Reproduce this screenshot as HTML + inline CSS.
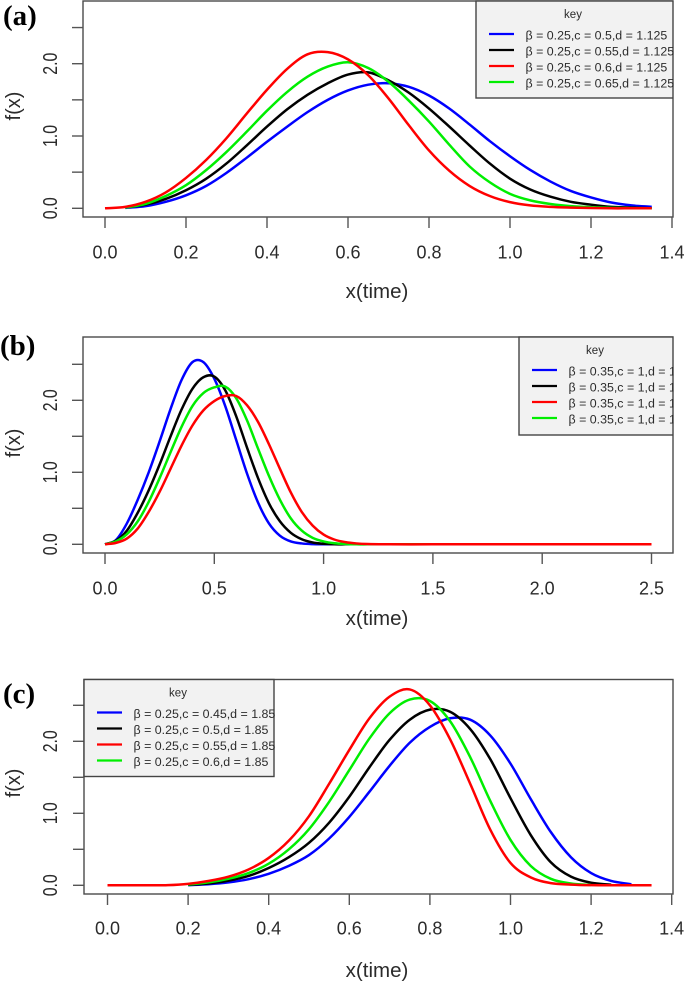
<!DOCTYPE html>
<html lang="en">
<head>
<meta charset="utf-8">
<title>f(x) density curves</title>
<style>
html,body{margin:0;padding:0;background:#fff;width:685px;height:981px;overflow:hidden}
svg{display:block;filter:blur(0.35px)}
text{font-family:"Liberation Sans",sans-serif;fill:#2b2b2b}
</style>
</head>
<body>
<svg id="figure" xmlns="http://www.w3.org/2000/svg" width="685" height="981" viewBox="0 0 685 981">
<defs><clipPath id="fig-clip"><rect x="0" y="0" width="673.5" height="981"></rect></clipPath></defs>
</svg>
<script>
// ---- shared data ----
const seriesNames = ['blue', 'black', 'green', 'red'];
const seriesColors = ['#0000ff', '#000000', '#00ee00', '#ff0000'];
const legendColors = ['#0000ff', '#000000', '#ff0000', '#00ee00'];
const yTicks = [0, 0.5, 1, 1.5, 2, 2.5];
const yTickLabels = ['0.0', '', '1.0', '', '2.0', ''];

// ---- panel (a) ----
const xA = [0,.05,.1,.15,.2,.25,.3,.35,.4,.45,.5,.55,.6,.65,.7,.75,.8,.85,.9,.95,1,1.05,1.1,1.15,1.2,1.25,1.3,1.35];
const blueA = [null,.005,.03,.09,.18,.31,.49,.7,.92,1.13,1.33,1.5,1.63,1.71,1.73,1.68,1.56,1.38,1.16,.93,.72,.53,.37,.24,.15,.08,.04,.02];
const blackA = [null,.01,.05,.13,.25,.41,.62,.87,1.13,1.37,1.57,1.73,1.85,1.88,1.77,1.6,1.38,1.13,.87,.62,.41,.26,.16,.09,.05,.02,.01,0];
const greenA = [null,.01,.06,.17,.32,.53,.78,1.06,1.35,1.61,1.82,1.96,2.02,1.94,1.75,1.49,1.2,.88,.58,.36,.2,.11,.06,.03,.015,.006,.002,0];
const redA = [0,.02,.09,.22,.42,.67,.97,1.31,1.64,1.93,2.13,2.16,2.06,1.84,1.52,1.15,.8,.52,.31,.17,.085,.04,.02,.01,.004,0,0,0];
const xTicksA = [0, .2, .4, .6, .8, 1, 1.2, 1.4];
const xTickLabelsA = ['0.0', '0.2', '0.4', '0.6', '0.8', '1.0', '1.2', '1.4'];
const legendA = ['β = 0.25,c = 0.5,d = 1.125', 'β = 0.25,c = 0.55,d = 1.125', 'β = 0.25,c = 0.6,d = 1.125', 'β = 0.25,c = 0.65,d = 1.125'];

// ---- panel (b) ----
const xB = [0,.05,.1,.15,.2,.25,.3,.35,.4,.45,.5,.55,.6,.65,.7,.75,.8,.85,.9,.95,1,1.05,1.1,1.15,1.2,1.3,1.5,2,2.5];
const blueB = [0,.06,.29,.62,1,1.43,1.88,2.28,2.53,2.53,2.3,1.92,1.45,.98,.58,.29,.12,.04,.012,.002,0,0,0,0,0,0,0,0,0];
const blackB = [0,.05,.19,.44,.75,1.11,1.5,1.87,2.16,2.32,2.33,2.14,1.78,1.34,.92,.57,.32,.16,.07,.025,.007,0,0,0,0,0,0,0,0];
const greenB = [0,.04,.14,.32,.59,.92,1.28,1.63,1.92,2.1,2.18,2.19,2.03,1.72,1.33,.95,.62,.36,.19,.09,.04,.015,.005,0,0,0,0,0,0];
const redB = [0,.02,.08,.22,.45,.73,1.05,1.37,1.65,1.86,1.99,2.06,2.06,1.93,1.7,1.39,1.05,.72,.45,.26,.135,.065,.03,.012,.004,0,0,0,0];
const xTicksB = [0, .5, 1, 1.5, 2, 2.5];
const xTickLabelsB = ['0.0', '0.5', '1.0', '1.5', '2.0', '2.5'];
const legendB = ['β = 0.35,c = 1,d = 1', 'β = 0.35,c = 1,d = 1', 'β = 0.35,c = 1,d = 1', 'β = 0.35,c = 1,d = 1'];

// ---- panel (c) ----
const xC = [0,.05,.1,.15,.2,.25,.3,.35,.4,.45,.5,.55,.6,.65,.7,.75,.8,.85,.9,.95,1,1.05,1.1,1.15,1.2,1.25,1.3,1.35];
const blueC = [null,null,null,null,.003,.015,.04,.085,.16,.27,.42,.65,.95,1.3,1.66,1.98,2.2,2.32,2.3,2.08,1.69,1.2,.74,.39,.17,.06,.015,null];
const blackC = [null,null,null,null,.005,.025,.065,.13,.24,.39,.59,.87,1.23,1.64,2.02,2.3,2.44,2.41,2.17,1.75,1.21,.7,.32,.12,.035,.008,null,null];
const greenC = [null,null,null,null,.01,.04,.09,.17,.3,.5,.78,1.16,1.6,2.04,2.39,2.58,2.56,2.28,1.78,1.17,.63,.27,.09,.025,.005,null,null,null];
const redC = [0,0,0,.002,.02,.06,.12,.22,.38,.62,.96,1.41,1.88,2.32,2.62,2.72,2.5,2.03,1.41,.77,.31,.11,.03,.01,.002,0,0,0];
const xTicksC = [0, .2, .4, .6, .8, 1, 1.2, 1.4];
const xTickLabelsC = ['0.0', '0.2', '0.4', '0.6', '0.8', '1.0', '1.2', '1.4'];
const legendC = ['β = 0.25,c = 0.45,d = 1.85', 'β = 0.25,c = 0.5,d = 1.85', 'β = 0.25,c = 0.55,d = 1.85', 'β = 0.25,c = 0.6,d = 1.85'];

const NS = 'http://www.w3.org/2000/svg';
const svg = document.getElementById('figure');
function mk(parent, tag, props, txt) {
  const el = document.createElementNS(NS, tag);
  for (const k in props) el.setAttribute(k, props[k]);
  if (txt !== undefined) el.textContent = txt;
  parent.appendChild(el);
  return el;
}
function curvePath(pts) {
  let d = 'M' + pts[0][0].toFixed(2) + ' ' + pts[0][1].toFixed(2);
  const slope = (a, b) => (b[1] - a[1]) / (b[0] - a[0]);
  for (let i = 0; i < pts.length - 1; i++) {
    const p0 = pts[i], p1 = pts[i + 1];
    const m0 = slope(pts[Math.max(i - 1, 0)], p1);
    const m1 = slope(p0, pts[Math.min(i + 2, pts.length - 1)]);
    const h = (p1[0] - p0[0]) / 3;
    d += 'C' + (p0[0] + h).toFixed(2) + ' ' + (p0[1] + m0 * h).toFixed(2) + ' ' + (p1[0] - h).toFixed(2) + ' ' + (p1[1] - m1 * h).toFixed(2) + ' ' + p1[0].toFixed(2) + ' ' + p1[1].toFixed(2);
  }
  return d;
}
function drawPanel(p) {
  const sx = v => p.x0 + v * p.xScale;
  const sy = v => p.y0 - v * p.yScale;
  const g = mk(svg, 'g', {});
  
  

  p.series.forEach((vals, i) => {
    const pts = [];
    vals.forEach((v, j) => { if (v !== null) pts.push([sx(p.xs[j]), sy(v)]); });
    const line = mk(g, 'path', {d: curvePath(pts), fill: 'none', stroke: seriesColors[i], 'stroke-width': 2.5, 'stroke-linejoin': 'round'});
    
    
  });

  const box = mk(g, 'rect', {x: p.left, y: p.top, width: p.right - p.left, height: p.bottom - p.top, fill: 'none', stroke: '#4a4a4a', 'stroke-width': 1.4});
  
  

  p.xTicks.forEach((v, i) => {
    const t = mk(g, 'line', {x1: sx(v), x2: sx(v), y1: p.bottom, y2: p.bottom + 11, stroke: '#555', 'stroke-width': 1.4});
    
    
    const l = mk(g, 'text', {x: sx(v), y: p.xLabelY, 'text-anchor': 'middle', 'font-size': 18}, p.xTickLabels[i]);
    
    
  });
  yTicks.forEach((v, i) => {
    const t = mk(g, 'line', {x1: p.left - 11, x2: p.left, y1: sy(v), y2: sy(v), stroke: '#555', 'stroke-width': 1.4});
    
    
    if (yTickLabels[i]) {
      const l = mk(g, 'text', {transform: 'translate(57 ' + sy(v) + ') rotate(-90) scale(.88,1.15)', 'text-anchor': 'middle', 'font-size': 18}, yTickLabels[i]);
      
      
    }
  });

  const xt = mk(g, 'text', {x: 377, y: p.xTitleY, 'text-anchor': 'middle', 'font-size': 20.5}, 'x(time)');
  
  
  const yt = mk(g, 'text', {transform: 'translate(20 ' + p.yTitleY + ') rotate(-90)', 'text-anchor': 'middle', 'font-size': 20}, 'f(x)');
  
  

  const tag = mk(g, 'text', {x: p.tagX, y: p.tagY, 'font-size': 29, 'font-weight': 'bold'}, '(' + p.id + ')');
  tag.style.fontFamily = '"Liberation Serif",serif';
  tag.style.fill = '#000';
  
  

  const lg = mk(g, 'g', {'clip-path': 'url(#fig-clip)'});
  
  
  const bg = mk(lg, 'rect', {x: p.lx, y: p.ly, width: p.lw, height: p.lh, fill: '#f2f2f2', stroke: '#444', 'stroke-width': 1.4});
  
  
  const kt = mk(lg, 'text', {x: p.keyX, y: p.ly + 17, 'text-anchor': 'middle', 'font-size': 11.5}, 'key');
  
  
  p.legend.forEach((s, i) => {
    const yy = p.ly + 33 + i * 16;
    const sw = mk(lg, 'line', {x1: p.lx + 13, x2: p.lx + 38, y1: yy, y2: yy, stroke: legendColors[i], 'stroke-width': 2.3});
    
    
    const tx = mk(lg, 'text', {x: p.lx + 49.5, y: yy + 5.5, 'font-size': 12.4}, s);
    
    
  });
}
drawPanel({id: 'a', xs: xA, series: [blueA, blackA, greenA, redA], xTicks: xTicksA, xTickLabels: xTickLabelsA, legend: legendA,
  x0: 105, xScale: 405, y0: 208.3, yScale: 72.3, left: 83, right: 673, top: 1, bottom: 217,
  xLabelY: 258.5, xTitleY: 298, yTitleY: 106, tagX: 3, tagY: 25, lx: 476, ly: 1, lw: 197, lh: 97, keyX: 573});
drawPanel({id: 'b', xs: xB, series: [blueB, blackB, greenB, redB], xTicks: xTicksB, xTickLabels: xTickLabelsB, legend: legendB,
  x0: 105, xScale: 218.6, y0: 544.3, yScale: 72, left: 83, right: 673, top: 337, bottom: 553,
  xLabelY: 594.5, xTitleY: 625, yTitleY: 443, tagX: 0, tagY: 355, lx: 519, ly: 337, lw: 154, lh: 98, keyX: 595});
drawPanel({id: 'c', xs: xC, series: [blueC, blackC, greenC, redC], xTicks: xTicksC, xTickLabels: xTickLabelsC, legend: legendC,
  x0: 107.5, xScale: 403, y0: 885.3, yScale: 72, left: 84, right: 673, top: 679.5, bottom: 894,
  xLabelY: 934.5, xTitleY: 977, yTitleY: 783, tagX: 3, tagY: 703, lx: 84, ly: 679.5, lw: 190, lh: 97, keyX: 178});
</script>
</body>
</html>
